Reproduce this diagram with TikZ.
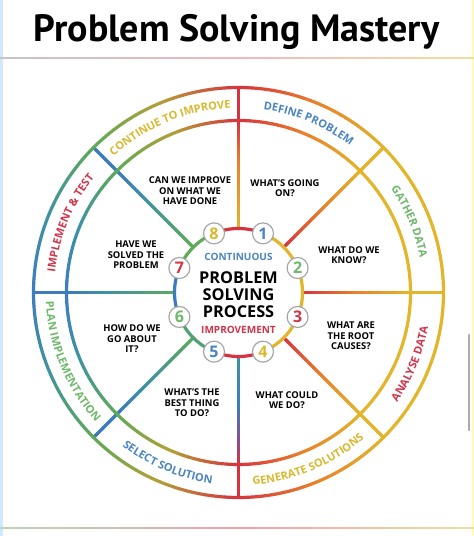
\documentclass[tikz,border=0pt]{standalone}
\usepackage{fontspec}
\setmainfont{Open Sans}
\newfontfamily\titlefont{PT Sans}
\usetikzlibrary{decorations.text}
\definecolor{cred}{HTML}{D7323F}
\definecolor{corange}{HTML}{E8822A}
\definecolor{cgold}{HTML}{E2B52B}
\definecolor{colive}{HTML}{B3A038}
\definecolor{cgreen}{HTML}{5DAA58}
\definecolor{cteal}{HTML}{3F93A0}
\definecolor{cblue}{HTML}{3C7CBD}
\definecolor{cpurple}{HTML}{8A4E8C}
\definecolor{tblue}{HTML}{4A85C1}
\definecolor{tgreen}{HTML}{6DB86A}
\definecolor{tred}{HTML}{D23449}
\definecolor{tgold}{HTML}{D9B82E}
\tikzset{
  ring/.style={line width=3.2pt, line cap=round},
  spoke/.style={line width=3.2pt, line cap=round},
  numc/.style={circle, draw=black!35, line width=1.2pt, fill=white, minimum size=21pt, inner sep=0pt,
    font=\bfseries\fontsize{16}{16}\selectfont},
  question/.style={align=center, inner sep=0pt, font=\bfseries\fontsize{9.4}{10.6}\selectfont},
}
\newcommand{\garc}[5]{%
  \foreach \gi in {0,...,11}{%
    \pgfmathsetmacro{\gA}{#2+(#3-#2)*\gi/12}%
    \pgfmathsetmacro{\gB}{#2+(#3-#2)*(\gi+1)/12}%
    \pgfmathsetmacro{\gP}{100*(\gi+0.5)/12}%
    \draw[ring, draw={#5!\gP!#4}] (\gA:#1) arc[start angle=\gA, end angle=\gB, radius=#1];
  }}
\newcommand{\gline}[5]{%
  \foreach \gi in {0,...,9}{%
    \pgfmathsetmacro{\gA}{#2+(#3-#2)*\gi/10}%
    \pgfmathsetmacro{\gB}{#2+(#3-#2)*(\gi+1)/10}%
    \pgfmathsetmacro{\gP}{100*(\gi+0.5)/10}%
    \draw[spoke, draw={#5!\gP!#4}] (#1:\gA) -- (#1:\gB);
  }}
\newcommand{\rainbowcircle}[1]{%
  \foreach \ga/\gb/\gc/\gd in {-90/-67.5/cred/corange, -67.5/-45/corange/cgold, -45/45/cgold/cgold,
     45/67.5/cgold/corange, 67.5/90/corange/cred, 90/112.5/cred/colive, 112.5/135/colive/cgreen,
     135/157.5/cgreen/cteal, 157.5/180/cteal/cblue, 180/202.5/cblue/cteal, 202.5/225/cteal/cgreen,
     225/247.5/cgreen/colive, 247.5/270/colive/cred}{%
    \garc{#1}{\ga}{\gb}{\gc}{\gd}
  }}
\newcommand{\lblfont}{\bfseries\fontsize{11}{11}\selectfont}
\begin{document}
\begin{tikzpicture}[x=1pt, y=1pt]
\useasboundingbox (0,0) rectangle (474,536);
% frame
\fill[white] (0,0) rectangle (474,536);
\fill[blue!50!cyan!18] (0,0) rectangle (2.5,536);
\fill[yellow!30!white] (471.5,0) rectangle (474,536);
\shade[left color=gray!45, right color=cgold!45, middle color=cred!35] (0,477.6) rectangle (474,478.8);
\shade[left color=cgreen!45, right color=cgold!45, middle color=cred!45] (0,7.4) rectangle (474,8.8);
\draw[line width=2.5pt, line cap=round, color=black!33] (469,201) -- (469,106);
% title
\node[anchor=base, inner sep=0pt, font=\titlefont\bfseries\fontsize{38}{38}\selectfont] (title) at (236.5,494) {Problem Solving Mastery};
\begin{scope}[shift={(238.5,243.5)}]
  % spokes
  \gline{90}{64}{130}{cgold}{corange}
  \gline{90}{130}{172}{corange}{cred}
  \gline{90}{172}{205}{cred}{cred}
  \foreach \s in {45,0,-45}{
    \gline{\s}{64}{120}{cred}{corange}
    \gline{\s}{120}{172}{corange}{cgold}
    \gline{\s}{172}{205}{cgold}{cgold}
  }
  \foreach \s in {135,180,225}{
    \gline{\s}{64}{130}{cgreen}{cteal}
    \gline{\s}{130}{172}{cteal}{cblue}
    \gline{\s}{172}{205}{cblue}{cblue}
  }
  \gline{-90}{64}{115}{cteal}{cblue}
  \gline{-90}{115}{150}{cblue}{cpurple}
  \gline{-90}{150}{172}{cpurple}{cred}
  \gline{-90}{172}{205}{cred}{cred}
  % rings
  \rainbowcircle{205}
  \rainbowcircle{172}
  % hub ring
  \draw[ring, cred] (67.5:64) arc[start angle=67.5, end angle=112.5, radius=64];
  \draw[ring, cgold] (-67.5:64) arc[start angle=-67.5, end angle=67.5, radius=64];
  \draw[ring, cred] (-112.5:64) arc[start angle=-112.5, end angle=-67.5, radius=64];
  \draw[ring, cgreen!60!cteal] (202.5:64) arc[start angle=202.5, end angle=247.5, radius=64];
  \draw[ring, cblue] (157.5:64) arc[start angle=157.5, end angle=202.5, radius=64];
  \draw[ring, cgreen] (112.5:64) arc[start angle=112.5, end angle=157.5, radius=64];
  % number circles
  \node[numc, text=tblue] (n1) at (67.5:64) {1};
  \node[numc, text=tgreen] (n2) at (22.5:64) {2};
  \node[numc, text=tred] (n3) at (-22.5:64) {3};
  \node[numc, text=tgold] (n4) at (-67.5:64) {4};
  \node[numc, text=tblue] (n5) at (-112.5:64) {5};
  \node[numc, text=tgreen] (n6) at (-157.5:64) {6};
  \node[numc, text=tred] (n7) at (157.5:64) {7};
  \node[numc, text=tgold] (n8) at (112.5:64) {8};
  % center text
  \node[inner sep=0pt, text=tblue, font=\bfseries\fontsize{10}{10}\selectfont] (cont) at (0,35.5) {CONTINUOUS};
  \node[inner sep=0pt, align=center, font=\bfseries\fontsize{16.3}{17}\selectfont] (psp) at (0,-2.5) {PROBLEM\\SOLVING\\PROCESS};
  \node[inner sep=0pt, text=tred, font=\bfseries\fontsize{10}{10}\selectfont] (impr) at (0,-37.5) {IMPROVEMENT};
  % questions
  \node[question] (q8) at (-48.5,101.5) {CAN WE IMPROVE\\ON WHAT WE\\HAVE DONE};
  \node[question] (q1) at (46.5,104.5) {WHAT'S GOING\\ON?};
  \node[question] (q2) at (110.5,37.5) {WHAT DO WE\\KNOW?};
  \node[question] (q3) at (112.5,-43.5) {WHAT ARE\\THE ROOT\\CAUSES?};
  \node[question] (q4) at (48.5,-107.5) {WHAT COULD\\WE DO?};
  \node[question] (q5) at (-46.5,-110.5) {WHAT'S THE\\BEST THING\\TO DO?};
  \node[question] (q6) at (-106.5,-46.5) {HOW DO WE\\GO ABOUT\\IT?};
  \node[question] (q7) at (-102.5,37.5) {HAVE WE\\SOLVED THE\\PROBLEM};
  % ring labels (top half: clockwise, bottom half: counterclockwise)
  \path[decorate, decoration={text along path, text align=center, text color=tgold,
    text={|\lblfont|CONTINUE TO IMPROVE}}] (135:184.5) arc[start angle=135, end angle=90, radius=184.5];
  \path[decorate, decoration={text along path, text align=center, text color=tblue,
    text={|\lblfont|DEFINE PROBLEM}}] (90:184.5) arc[start angle=90, end angle=45, radius=184.5];
  \path[decorate, decoration={text along path, text align=center, text color=tgreen,
    text={|\lblfont|GATHER DATA}}] (45:184.5) arc[start angle=45, end angle=0, radius=184.5];
  \path[decorate, decoration={text along path, text align=center, text color=tred,
    text={|\lblfont|IMPLEMENT {\&} TEST}}] (180:184.5) arc[start angle=180, end angle=135, radius=184.5];
  \path[decorate, decoration={text along path, text align=center, text color=tred,
    text={|\lblfont|ANALYSE DATA}}] (-45:192.8) arc[start angle=-45, end angle=0, radius=192.8];
  \path[decorate, decoration={text along path, text align=center, text color=tgold,
    text={|\lblfont|GENERATE SOLUTIONS}}] (-90:192.8) arc[start angle=-90, end angle=-45, radius=192.8];
  \path[decorate, decoration={text along path, text align=center, text color=tblue,
    text={|\lblfont|SELECT SOLUTION}}] (-135:192.8) arc[start angle=-135, end angle=-90, radius=192.8];
  \path[decorate, decoration={text along path, text align=center, text color=tgreen,
    text={|\lblfont|PLAN IMPLEMENTATION}}] (180:192.8) arc[start angle=180, end angle=225, radius=192.8];
\end{scope}
\end{tikzpicture}
\end{document}
